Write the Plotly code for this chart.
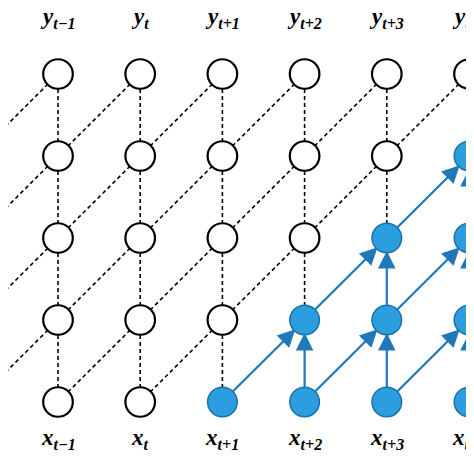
import plotly.graph_objects as go

top_labels = ["y<sub>t−1</sub>", "y<sub>t</sub>", "y<sub>t+1</sub>", "y<sub>t+2</sub>", "y<sub>t+3</sub>", "y<sub>t+4</sub>"]
bottom_labels = ["x<sub>t−1</sub>", "x<sub>t</sub>", "x<sub>t+1</sub>", "x<sub>t+2</sub>", "x<sub>t+3</sub>", "x<sub>t+4</sub>"]
blue_counts = [0, 0, 1, 2, 3, 4]
n_rows = 5

BLUE = "#2b9ee0"
EDGE = "#1d6fa8"
LINE = "#1f78b8"
R = 0.18

def is_blue(c, r):
    return 0 <= c < len(blue_counts) and r < blue_counts[c]

fig = go.Figure()
ncol = len(top_labels)
xs, ys = [], []
for c in range(ncol):
    for r in range(n_rows - 1):
        if not (is_blue(c, r) and is_blue(c, r + 1)):
            xs += [c, c, None]; ys += [r, r + 1, None]
for c in range(-1, ncol):
    for r in range(n_rows - 1):
        if not (is_blue(c, r) and is_blue(c + 1, r + 1)):
            xs += [c, c + 1, None]; ys += [r, r + 1, None]
fig.add_trace(go.Scatter(x=xs, y=ys, mode="lines", line=dict(color="black", width=1.6, dash="4px,3px"),
                         hoverinfo="skip", showlegend=False))

for c in range(ncol):
    for r in range(n_rows - 1):
        if is_blue(c, r) and is_blue(c, r + 1):
            fig.add_annotation(x=c, y=r + 1, ax=c, ay=r, xref="x", yref="y", axref="x", ayref="y",
                               showarrow=True, arrowhead=2, arrowsize=1.6, arrowwidth=2.2, arrowcolor=LINE,
                               standoff=13, startstandoff=13, text="")
        if is_blue(c, r) and is_blue(c + 1, r + 1):
            fig.add_annotation(x=c + 1, y=r + 1, ax=c, ay=r, xref="x", yref="y", axref="x", ayref="y",
                               showarrow=True, arrowhead=2, arrowsize=1.6, arrowwidth=2.2, arrowcolor=LINE,
                               standoff=13, startstandoff=13, text="")

for c in range(ncol):
    for r in range(n_rows):
        b = is_blue(c, r)
        fig.add_shape(type="circle", xref="x", yref="y", x0=c - R, x1=c + R, y0=r - R, y1=r + R,
                      fillcolor=BLUE if b else "white",
                      line=dict(color=EDGE if b else "black", width=1.5 if b else 2.2), layer="above")

font = dict(family="Liberation Serif", size=23, color="black")
for c in range(ncol):
    fig.add_annotation(x=c, y=4.68, text="<b><i>" + top_labels[c] + "</i></b>", showarrow=False, font=font)
    fig.add_annotation(x=c, y=-0.45, text="<b><i>" + bottom_labels[c] + "</i></b>", showarrow=False, font=font)

fig.update_layout(width=474, height=474, margin=dict(l=0, r=0, t=0, b=0),
                  plot_bgcolor="white", paper_bgcolor="white",
                  xaxis=dict(range=[-50 / 82.2, (474 - 50) / 82.2], visible=False, fixedrange=True),
                  yaxis=dict(range=[(394 - 474) / 82.0, 394 / 82.0], visible=False, fixedrange=True))
fig.write_html("out.html")
